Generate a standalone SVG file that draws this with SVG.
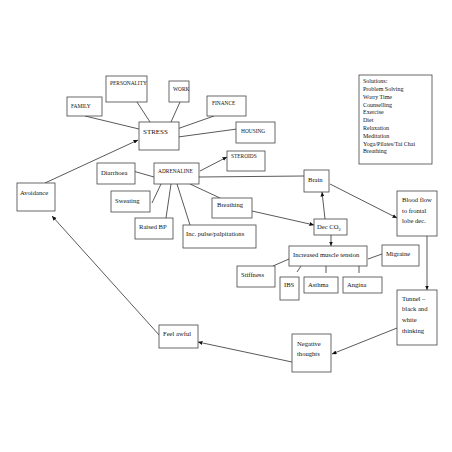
<svg xmlns="http://www.w3.org/2000/svg" width="452" height="452" viewBox="0 0 452 452">
<style>
rect{fill:#fff;stroke:#444;stroke-width:0.8}
text{font-family:"Liberation Serif","Times New Roman",serif;font-size:6.6px;fill:#111}
.caps{font-size:5.4px}
.big{font-size:7px}
.sol{font-size:6px}
#connectors path{fill:none;stroke:#111;stroke-width:0.7}
</style>
<defs>
<marker id="ah" markerUnits="userSpaceOnUse" markerWidth="5" markerHeight="4" refX="4.5" refY="2" orient="auto">
<path d="M0,0 L4.5,2 L0,4 Z" fill="#111"/>
</marker>
</defs>
<rect x="0" y="0" width="452" height="452" style="fill:#fff;stroke:none"/>
<g id="connectors">
<path d="M85,116 L139,129"/>
<path d="M137,102 L150,122"/>
<path d="M180,102 L171,122"/>
<path d="M214,116 L177,129"/>
<path d="M237,129 L178,137"/>
<path d="M45,183 L138,140" marker-end="url(#ah)"/>
<path d="M133,171 L154,177"/>
<path d="M152,203 L161,184"/>
<path d="M166,218 L171,184"/>
<path d="M190,225 L177,184"/>
<path d="M200,171 L227,157" marker-end="url(#ah)"/>
<path d="M199,177 L304,176"/>
<path d="M190,184 L220,198"/>
<path d="M252,211 L314,225" marker-end="url(#ah)"/>
<path d="M325,219 L322,192" marker-end="url(#ah)"/>
<path d="M330,184 L397,218" marker-end="url(#ah)"/>
<path d="M331,235 L331,246" marker-end="url(#ah)"/>
<path d="M368,259 L382,254"/>
<path d="M273,266 L289,259"/>
<path d="M297,272 L301,266"/>
<path d="M326,266 L326,273"/>
<path d="M359,266 L359,273"/>
<path d="M427,236 L427,290" marker-end="url(#ah)"/>
<path d="M397,328 L332,354" marker-end="url(#ah)"/>
<path d="M292,362 L198,342" marker-end="url(#ah)"/>
<path d="M160,336 L52,216" marker-end="url(#ah)"/>
</g>
<g id="family"><rect x="67" y="97" width="35" height="19"/><text class="caps" x="71" y="108">FAMILY</text></g>
<g id="personality"><rect x="106" y="76" width="41" height="26"/><text class="caps" x="110" y="85">PERSONALITY</text></g>
<g id="work"><rect x="169" y="81" width="20" height="21"/><text class="caps" x="173" y="91">WORK</text></g>
<g id="finance"><rect x="207" y="96" width="39" height="20"/><text class="caps" x="212" y="105">FINANCE</text></g>
<g id="housing"><rect x="236" y="122" width="39" height="21"/><text class="caps" x="241" y="133">HOUSING</text></g>
<g id="stress"><rect x="139" y="122" width="40" height="28"/><text class="big" x="143" y="134">STRESS</text></g>
<g id="avoidance"><rect x="17" y="183" width="38" height="28"/><text x="20" y="195">Avoidance</text></g>
<g id="diarrhoea"><rect x="97" y="163" width="38" height="21"/><text x="101" y="175">Diarrhoea</text></g>
<g id="adrenaline"><rect x="154" y="163" width="45" height="21"/><text class="caps" x="158" y="173">ADRENALINE</text></g>
<g id="sweating"><rect x="111" y="191" width="39" height="21"/><text x="115" y="203">Sweating</text></g>
<g id="raisedbp"><rect x="135" y="218" width="38" height="21"/><text x="139" y="229">Raised BP</text></g>
<g id="incpulse"><rect x="183" y="225" width="73" height="23"/><text x="186" y="236">Inc. pulse/palpitations</text></g>
<g id="steroids"><rect x="227" y="151" width="38" height="20"/><text class="caps" x="231" y="158">STEROIDS</text></g>
<g id="brain"><rect x="304" y="170" width="25" height="22"/><text x="308" y="182">Brain</text></g>
<g id="breathing"><rect x="212" y="198" width="40" height="20"/><text x="217" y="207">Breathing</text></g>
<g id="decco2"><rect x="314" y="219" width="33" height="16"/><text x="317" y="229">Dec CO<tspan font-size="4.5" dy="1.5">2</tspan></text></g>
<g id="muscle"><rect x="289" y="246" width="78" height="20"/><text x="293" y="257">Increased muscle tension</text></g>
<g id="migraine"><rect x="382" y="245" width="37" height="21"/><text x="386" y="256">Migraine</text></g>
<g id="stiffness"><rect x="237" y="266" width="38" height="21"/><text x="241" y="277">Stiffness</text></g>
<g id="ibs"><rect x="280" y="277" width="19" height="23"/><text x="284" y="287">IBS</text></g>
<g id="asthma"><rect x="304" y="277" width="34" height="16"/><text x="308" y="287">Asthma</text></g>
<g id="angina"><rect x="343" y="277" width="39" height="16"/><text x="347" y="287">Angina</text></g>
<g id="bloodflow"><rect x="397" y="191" width="40" height="45"/><text x="402" y="202">Blood flow</text><text x="402" y="213">to frontal</text><text x="402" y="223">lobe dec.</text></g>
<g id="tunnel"><rect x="397" y="290" width="40" height="55"/><text x="402" y="301">Tunnel –</text><text x="402" y="311">black and</text><text x="402" y="322">white</text><text x="402" y="333">thinking</text></g>
<g id="negative"><rect x="292" y="334" width="39" height="38"/><text x="297" y="346">Negative</text><text x="297" y="356">thoughts</text></g>
<g id="feelawful"><rect x="159" y="325" width="39" height="23"/><text x="163" y="336">Feel awful</text></g>
<g id="solutions"><rect x="359" y="75" width="73" height="89"/>
<text class="sol" x="363" y="83">Solutions:</text>
<text class="sol" x="363" y="91">Problem Solving</text>
<text class="sol" x="363" y="99">Worry Time</text>
<text class="sol" x="363" y="106.5">Counselling</text>
<text class="sol" x="363" y="114">Exercise</text>
<text class="sol" x="363" y="122">Diet</text>
<text class="sol" x="363" y="130">Relaxation</text>
<text class="sol" x="363" y="138">Meditation</text>
<text class="sol" x="363" y="145.5">Yoga/Pilates/Tai Chai</text>
<text class="sol" x="363" y="153">Breathing</text>
</g>
</svg>
